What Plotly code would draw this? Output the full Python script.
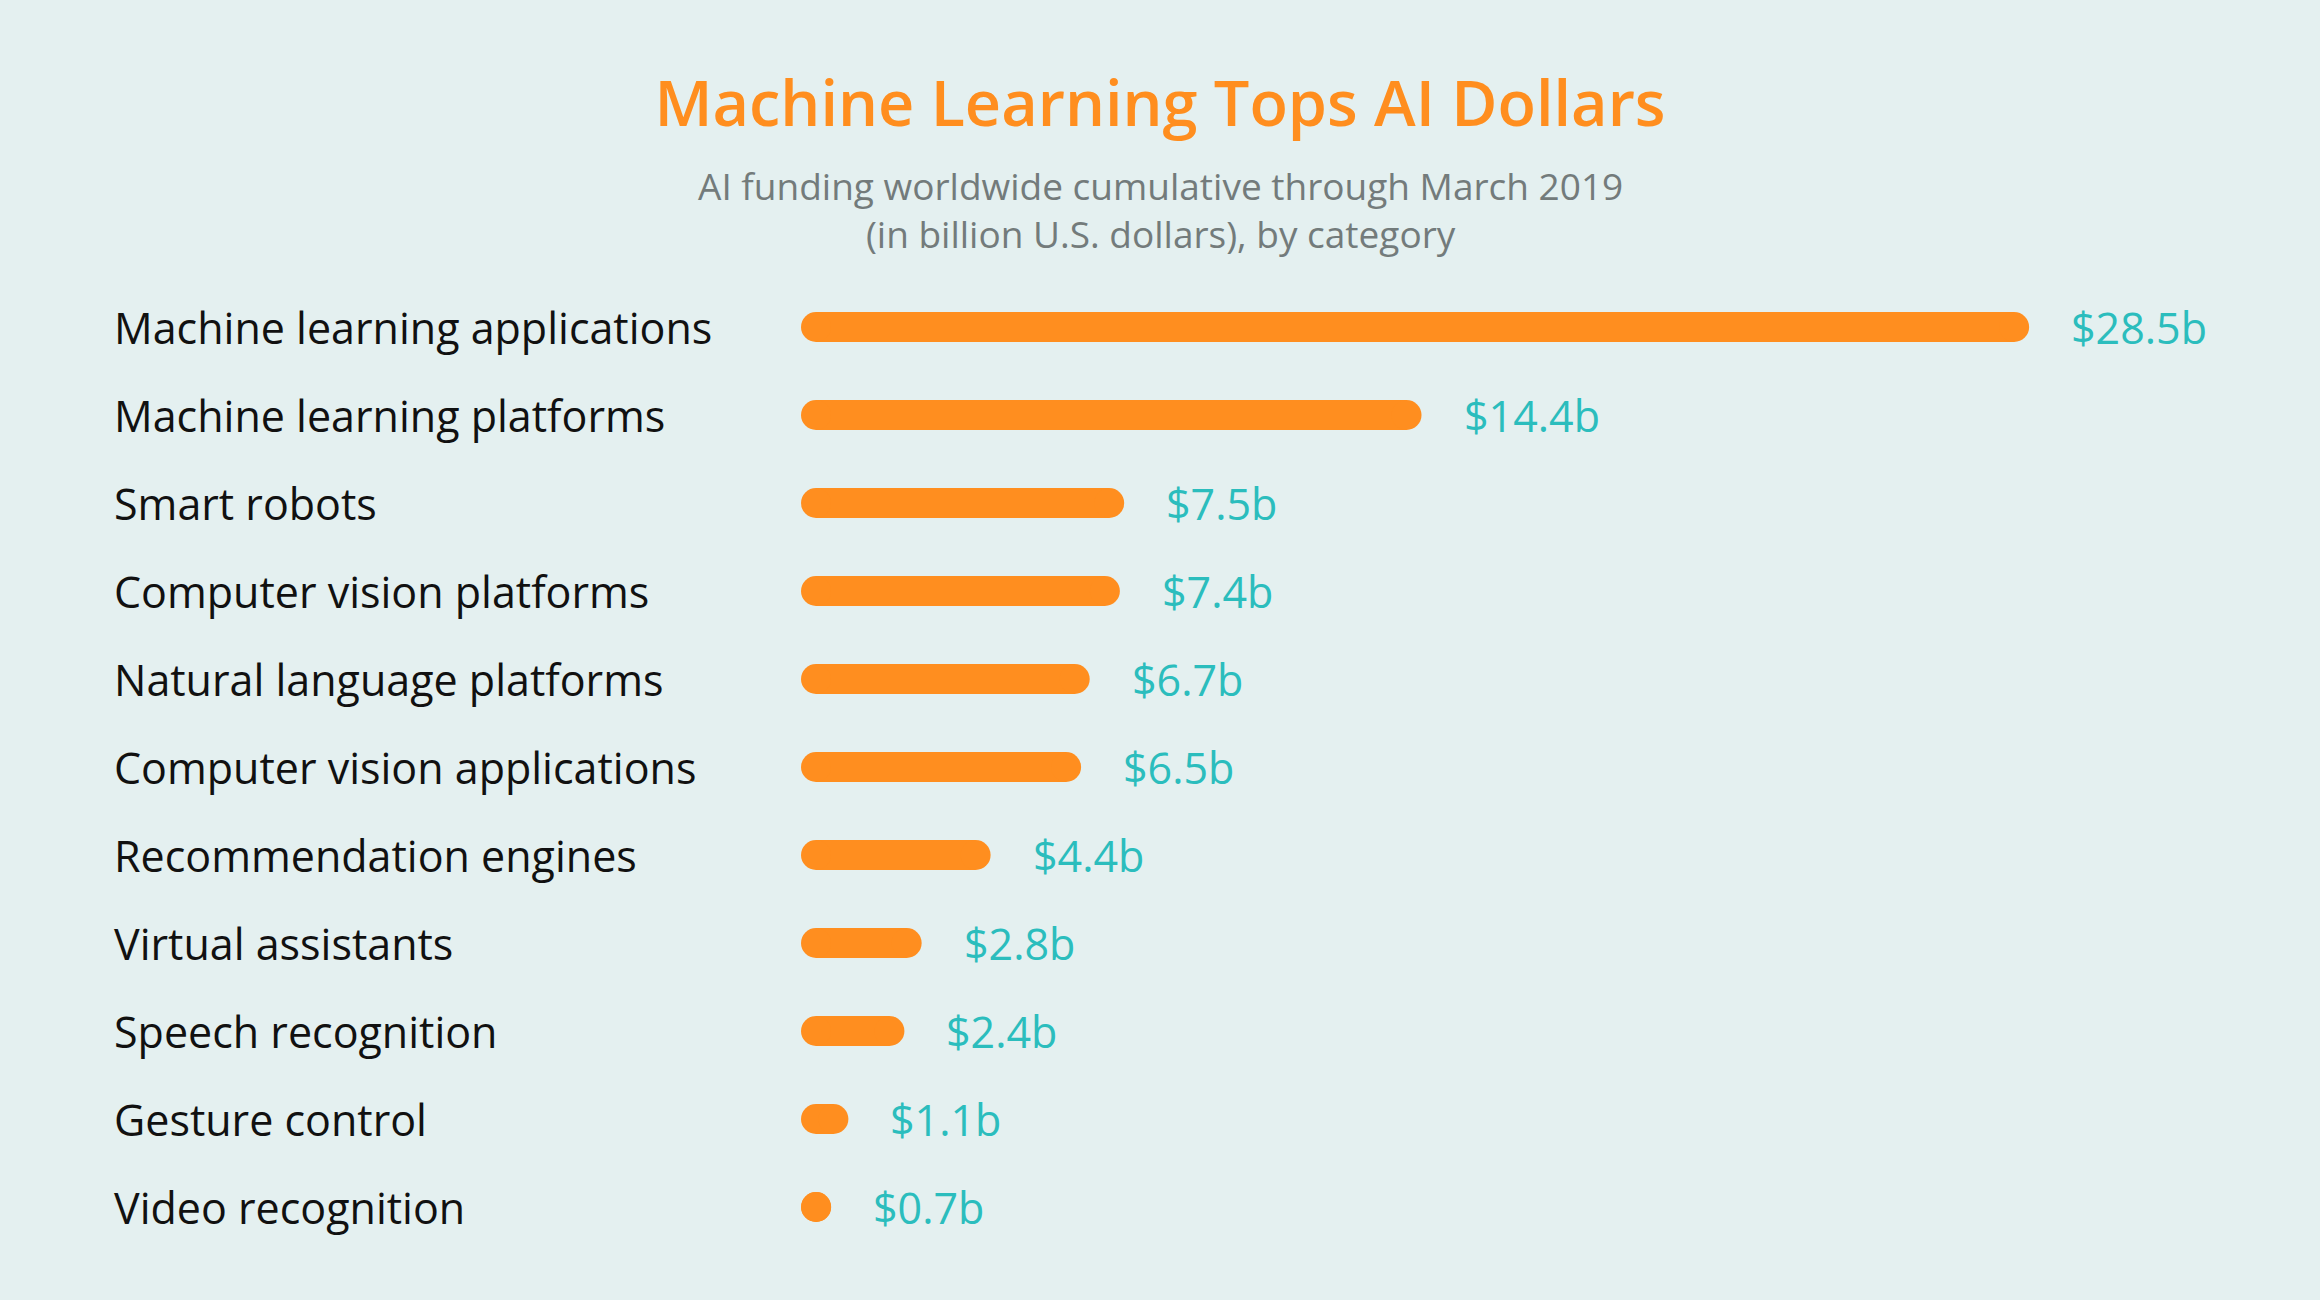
import plotly.graph_objects as go

categories = [
    "Machine learning applications",
    "Machine learning platforms",
    "Smart robots",
    "Computer vision platforms",
    "Natural language platforms",
    "Computer vision applications",
    "Recommendation engines",
    "Virtual assistants",
    "Speech recognition",
    "Gesture control",
    "Video recognition",
]
values = [28.5, 14.4, 7.5, 7.4, 6.7, 6.5, 4.4, 2.8, 2.4, 1.1, 0.7]
value_labels = ["$%.1fb" % v for v in values]

title_text = "Machine Learning Tops AI Dollars"
subtitle_text = "AI funding worldwide cumulative through March 2019<br>(in billion U.S. dollars), by category"

BG = "#E4F0F0"
ORANGE = "#FF8E1F"
TEAL = "#2BBDBD"
FONT = "Open Sans"

W, H = 2320, 1300
ML, MR, MT, MB = 801, 0, 283, 49
PW = W - ML - MR
PH = H - MT - MB
XMAX = 35.25
N = len(categories)
ROW_PX = PH / N
THICK = 30                       # bar thickness in px
R = (THICK / 2) / (PW / XMAX)    # cap radius in data units

starts = [R for v in values]
lengths = [max(v - 2 * R, 0) for v in values]
ends = [max(v - R, R) for v in values]

fig = go.Figure()
# straight middle part of each bar
fig.add_trace(go.Bar(
    y=categories, x=lengths, base=starts, orientation="h",
    width=THICK / ROW_PX, marker=dict(color=ORANGE, line=dict(width=0)),
    hoverinfo="skip", showlegend=False,
))
# round caps
fig.add_trace(go.Scatter(
    y=categories + categories, x=starts + ends, mode="markers",
    marker=dict(color=ORANGE, size=THICK, line=dict(width=0)),
    hoverinfo="skip", showlegend=False, cliponaxis=False,
))

annotations = []
for c, v, lab in zip(categories, values, value_labels):
    annotations.append(dict(
        x=v, y=c, xref="x", yref="y", text=lab, showarrow=False,
        xanchor="left", yanchor="middle", xshift=40,
        font=dict(family=FONT, size=43, color=TEAL, weight=500),
    ))
    annotations.append(dict(
        x=(112 - ML) / PW, y=c, xref="paper", yref="y", text=c, showarrow=False,
        xanchor="left", yanchor="middle",
        font=dict(family=FONT, size=43, color="#111111"),
    ))

annotations.append(dict(
    x=(W / 2 - ML) / PW, y=(H - MB - 209) / PH, xref="paper", yref="paper",
    text=subtitle_text, showarrow=False, xanchor="center", yanchor="middle",
    align="center", font=dict(family=FONT, size=37, color="#737B7B"),
))

fig.update_layout(
    width=W, height=H,
    paper_bgcolor=BG, plot_bgcolor=BG,
    margin=dict(l=ML, r=MR, t=MT, b=MB),
    barmode="overlay",
    title=dict(text=title_text, x=0.5, xref="container", xanchor="center",
               y=1 - 104 / H, yref="container", yanchor="middle",
               font=dict(family=FONT, size=63, color=ORANGE, weight=600)),
    xaxis=dict(range=[0, XMAX], autorange=False, visible=False, fixedrange=True),
    yaxis=dict(categoryorder="array", categoryarray=categories,
               range=[N - 0.5, -0.5], autorange=False,
               showticklabels=False, showgrid=False,
               zeroline=False, fixedrange=True),
    annotations=annotations,
)

fig.write_html(
    "out.html",
    config={"displayModeBar": False},
    post_script="document.body.style.margin='0';document.body.style.background='%s';" % BG,
)
